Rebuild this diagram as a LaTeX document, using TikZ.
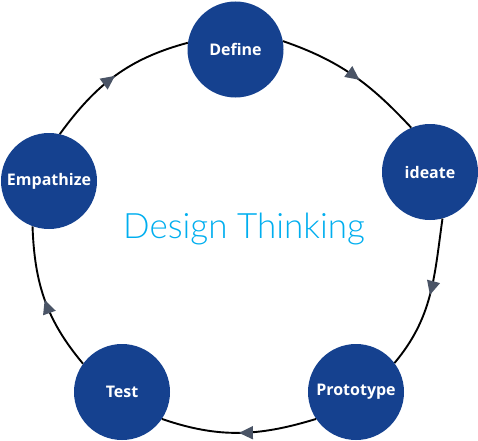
\documentclass[tikz,border=0pt]{standalone}
\usepackage{fontspec}
\usepackage{tikz}
\usetikzlibrary{arrows.meta,decorations.markings}
\setmainfont{Open Sans}
\newfontfamily\titlefont{Lato Light}
\definecolor{stageblue}{RGB}{21,65,143}
\definecolor{titleblue}{RGB}{0,174,239}
\definecolor{tipgray}{RGB}{74,84,102}

\begin{document}
\begin{tikzpicture}[x=1pt,y=1pt,
    stage/.style={circle,fill=stageblue,minimum size=96pt,inner sep=0pt,
      text=white,font=\fontsize{16}{18}\selectfont\bfseries},
    flow/.style={line width=1.9pt,postaction={decorate},
      decoration={markings,mark=at position #1 with
        {\arrow{Triangle[length=14pt,width=13pt,color=tipgray]}}}},
    flow/.default=0.5]
      \useasboundingbox (0,0) rectangle (478,440);
      \node[stage] (def) at (235.5,390.5) {Define};
      \node[stage] (ide) at (430,268) {ideate};
      \node[stage] (pro) at (356,48) {Prototype};
      \node[stage] (tes) at (122,48) {Test};
      \node[stage] (emp) at (49,259) {Empathize};
      \node[text=titleblue,font=\titlefont\fontsize{35}{38}\selectfont,anchor=base]
        (title) at (244,202) {Design Thinking};
      % connectors, clockwise
      \draw[flow] (emp.77) to[out=54,in=195] (def.172);
      \draw[flow=0.55] (def.10) to[out=-19,in=133] (ide.113);
      \draw[flow] (ide.-75) to[out=-98,in=50] (pro.37);
      \draw[flow] (pro.214) to[out=197,in=-19] (tes.-34);
      \draw[flow] (tes.144) to[out=130,in=-88] (emp.250);
    \end{tikzpicture}
\end{document}
